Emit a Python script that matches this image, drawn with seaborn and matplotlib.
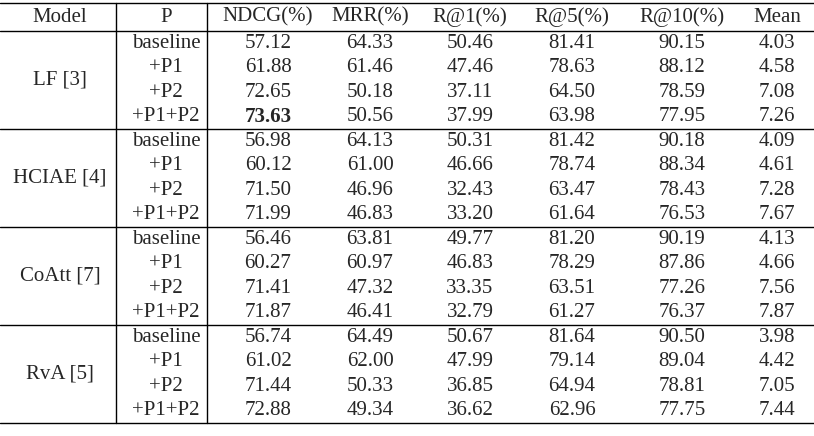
import matplotlib.pyplot as plt
import seaborn as sns

sns.set_theme(style="white")
plt.rcParams['font.family'] = ['Liberation Serif', 'DejaVu Serif']

headers = ["Model", "P", "NDCG(%)", "MRR(%)", "R@1(%)", "R@5(%)", "R@10(%)", "Mean"]
models = ["LF [3]", "HCIAE [4]", "CoAtt [7]", "RvA [5]"]
variants = ["baseline", "+P1", "+P2", "+P1+P2"]
values = [
    [["57.12", "64.33", "50.46", "81.41", "90.15", "4.03"],
     ["61.88", "61.46", "47.46", "78.63", "88.12", "4.58"],
     ["72.65", "50.18", "37.11", "64.50", "78.59", "7.08"],
     ["73.63", "50.56", "37.99", "63.98", "77.95", "7.26"]],
    [["56.98", "64.13", "50.31", "81.42", "90.18", "4.09"],
     ["60.12", "61.00", "46.66", "78.74", "88.34", "4.61"],
     ["71.50", "46.96", "32.43", "63.47", "78.43", "7.28"],
     ["71.99", "46.83", "33.20", "61.64", "76.53", "7.67"]],
    [["56.46", "63.81", "49.77", "81.20", "90.19", "4.13"],
     ["60.27", "60.97", "46.83", "78.29", "87.86", "4.66"],
     ["71.41", "47.32", "33.35", "63.51", "77.26", "7.56"],
     ["71.87", "46.41", "32.79", "61.27", "76.37", "7.87"]],
    [["56.74", "64.49", "50.67", "81.64", "90.50", "3.98"],
     ["61.02", "62.00", "47.99", "79.14", "89.04", "4.42"],
     ["71.44", "50.33", "36.85", "64.94", "78.81", "7.05"],
     ["72.88", "49.34", "36.62", "62.96", "77.75", "7.44"]],
]
bold_cells = [(0, 3, 0)]

fig = plt.figure(figsize=(8.14, 4.36), dpi=100)
ax = fig.add_axes([0, 0, 1, 1])
ax.set_xlim(0, 814)
ax.set_ylim(436, 0)
ax.axis("off")

col_x = [60, 166, 268, 370, 470, 572, 682, 777]
fs = 15
top, head_bot, group_h, row_h = 3, 31, 98, 24.5

for x, h in zip(col_x, headers):
    ax.text(x, (top + head_bot) / 2, h, ha="center", va="center", fontsize=fs)

for g, m in enumerate(models):
    y0 = head_bot + g * group_h
    ax.text(col_x[0], y0 + group_h / 2, m, ha="center", va="center", fontsize=fs)
    for r, v in enumerate(variants):
        yc = y0 + row_h * (r + 0.5)
        ax.text(col_x[1], yc, v, ha="center", va="center", fontsize=fs)
        for c, val in enumerate(values[g][r]):
            w = "bold" if (g, r, c) in bold_cells else "normal"
            ax.text(col_x[c + 2], yc, val, ha="center", va="center", fontsize=fs, fontweight=w)
    ax.plot([0, 814], [y0, y0], color="black", lw=1.0)

bottom = head_bot + 4 * group_h
ax.plot([0, 814], [top, top], color="black", lw=1.0)
ax.plot([0, 814], [bottom, bottom], color="black", lw=1.0)
for vx in [116, 207]:
    ax.plot([vx, vx], [top, bottom], color="black", lw=1.0)

fig.savefig("out.png", dpi=100)
